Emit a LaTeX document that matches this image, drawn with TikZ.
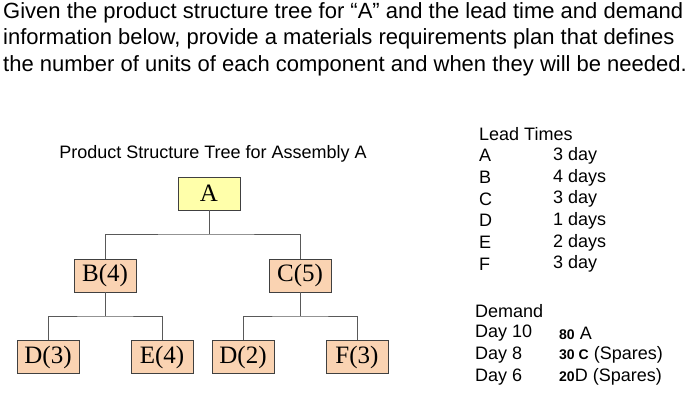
\documentclass[tikz,border=0pt]{standalone}
\usepackage{fontspec}
\setmainfont{Liberation Sans}
\newfontfamily\serif{Liberation Serif}
\begin{document}
\begin{tikzpicture}[x=1pt,y=-1pt,
  box/.style={draw=black!75,line width=0.8pt,fill=peach,minimum width=62pt,minimum height=33pt,inner sep=0pt,font=\serif\fontsize{25}{25}\selectfont},
  ln/.style={draw=black!65,line width=0.8pt},
  txt/.style={anchor=west,inner sep=0pt,font=\fontsize{18}{18}\selectfont}]
\definecolor{peach}{HTML}{FAD3B2}
\definecolor{lyellow}{HTML}{FFFFAA}
\useasboundingbox (0,0) rectangle (700,411);
\node[anchor=north west,inner sep=0pt,align=left,font=\fontsize{22}{26.5}\selectfont] (title) at (3,2)
 {Given the product structure tree for “A” and the lead time and demand\\information below, provide a materials requirements plan that defines\\the number of units of each component and when they will be needed.};
\node[font=\fontsize{18}{18}\selectfont,inner sep=0pt] (ttl) at (213,154) {Product Structure Tree for Assembly A};
\node[box,fill=lyellow] (A) at (209,193.5) {A};
\node[box] (B) at (105,275.5) {B(4)};
\node[box] (C) at (300,275.5) {C(5)};
\node[box] (D3) at (48,357) {D(3)};
\node[box] (E4) at (162,357) {E(4)};
\node[box] (D2) at (243,357) {D(2)};
\node[box] (F3) at (357,357) {F(3)};
\coordinate (ja) at (209,234);
\coordinate (jb) at (105,316);
\coordinate (jc) at (300,316);
\draw[ln] (A.south) -- (ja) (B.north) |- (ja) -| (C.north);
\draw[ln] (B.south) -- (jb) (D3.north) |- (jb) -| (E4.north);
\draw[ln] (C.south) -- (jc) (D2.north) |- (jc) -| (F3.north);
\node[txt] (lt) at (479,134) {Lead Times};
\foreach \l/\d [count=\i] in {A/3 day,B/4 days,C/3 day,D/1 days,E/2 days,F/3 day}{
  \node[txt] (l\i) at (479,134+21.7*\i) {\l};
  \node[txt] (d\i) at (553,134+21.7*\i) {\d};
}
\node[txt] (dm) at (475,311) {Demand};
\node[txt] (d10) at (475,333) {Day 10};
\node[txt] (d8) at (475,355) {Day 8};
\node[txt] (d6) at (475,377) {Day 6};
\node[txt] (q1) at (559,333) {\textbf{\fontsize{14}{14}\selectfont 80} A};
\node[txt] (q2) at (559,355) {\textbf{\fontsize{14}{14}\selectfont 30 C} (Spares)};
\node[txt] (q3) at (559,377) {\textbf{\fontsize{14}{14}\selectfont 20}D (Spares)};
\end{tikzpicture}
\end{document}
